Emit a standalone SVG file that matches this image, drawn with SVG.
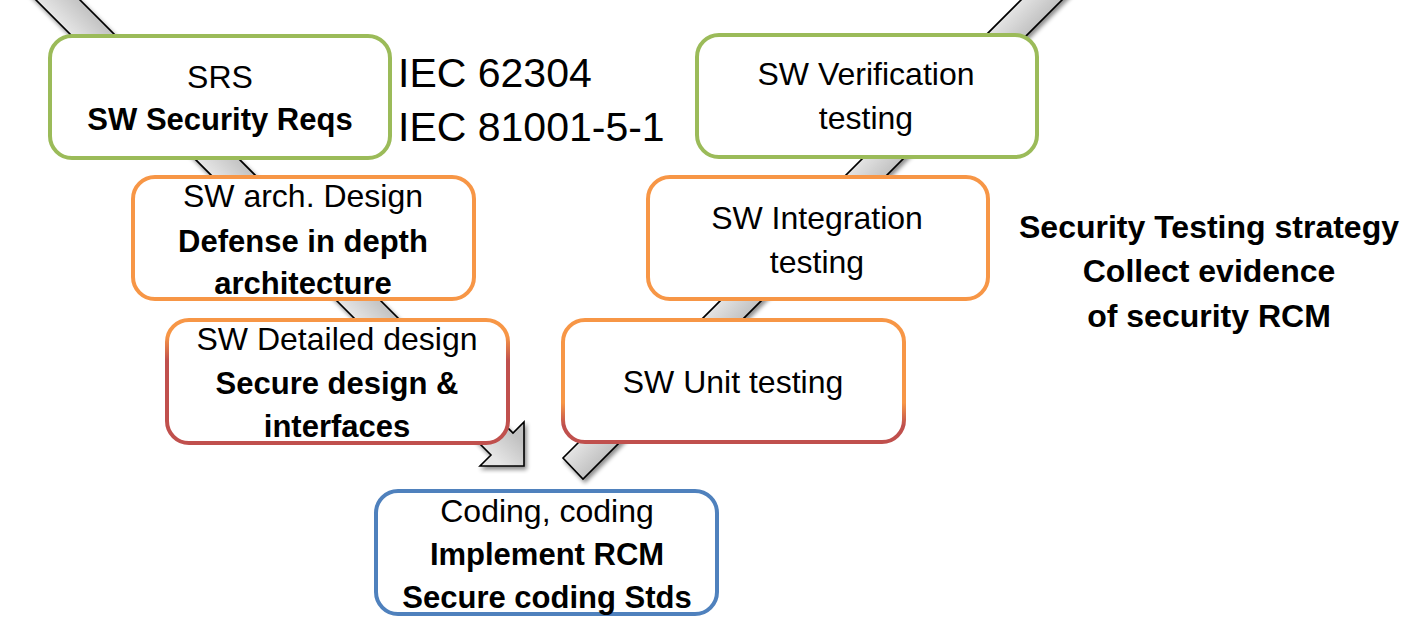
<svg xmlns="http://www.w3.org/2000/svg" width="1428" height="640" viewBox="0 0 1428 640">
<style>
.box{fill:#ffffff;stroke-width:4}
.t{font-family:"Liberation Sans",Arial,sans-serif;font-size:32px;fill:#000;text-anchor:middle}
.b{font-weight:bold;font-size:31px}
.s{font-size:32px}
.iec{font-family:"Liberation Sans",Arial,sans-serif;font-size:41px;fill:#000}
.band{stroke:#000;stroke-width:1.6;stroke-linejoin:miter}
</style>
<defs>
<linearGradient id="gL" gradientUnits="userSpaceOnUse" x1="36" y1="0" x2="58" y2="-22">
<stop offset="0" stop-color="#e6e6e6"/><stop offset="1" stop-color="#c2c2c2"/>
</linearGradient>
<linearGradient id="gR" gradientUnits="userSpaceOnUse" x1="1021" y1="0" x2="1041.5" y2="20.5">
<stop offset="0" stop-color="#e4e4e4"/><stop offset="1" stop-color="#c2c2c2"/>
</linearGradient>
<linearGradient id="gDet" x1="0" y1="0" x2="0" y2="1">
<stop offset="0.13" stop-color="#F79646"/><stop offset="0.33" stop-color="#C0504D"/>
</linearGradient>
<linearGradient id="gUnit" x1="0" y1="0" x2="0" y2="1">
<stop offset="0.68" stop-color="#F79646"/><stop offset="0.86" stop-color="#C0504D"/>
</linearGradient>
<filter id="sh" x="-20%" y="-20%" width="140%" height="140%">
<feGaussianBlur in="SourceAlpha" stdDeviation="2"/>
<feOffset dx="2" dy="3" result="o"/>
<feComponentTransfer><feFuncA type="linear" slope="0.45"/></feComponentTransfer>
<feMerge><feMergeNode/><feMergeNode in="SourceGraphic"/></feMerge>
</filter>
</defs>
<rect width="1428" height="640" fill="#ffffff"/>

<g id="connectors">
<polygon class="band" fill="url(#gL)" filter="url(#sh)" points="60,-20 513,433 524,422 524,466 480,466 491,455 16,-20"/>
<polygon class="band" fill="url(#gR)" filter="url(#sh)" points="1041,-20 1082,-20 583,479 563,458"/>
</g>

<g id="srs">
<rect class="box" x="50" y="36" width="340" height="122" rx="22" stroke="#9BBB59"/>
<text class="t" x="220" y="88">SRS</text>
<text class="t b" x="220" y="130">SW Security Reqs</text>
</g>

<g id="iec">
<text class="iec" x="398" y="87">IEC 62304</text>
<text class="iec" x="398" y="141">IEC 81001-5-1</text>
</g>

<g id="verification">
<rect class="box" x="697" y="35" width="340" height="122" rx="22" stroke="#9BBB59"/>
<text class="t" x="866" y="85">SW Verification</text>
<text class="t" x="866" y="129">testing</text>
</g>

<g id="arch">
<rect class="box" x="133" y="177" width="341" height="122" rx="22" stroke="#F79646"/>
<text class="t" x="303" y="207">SW arch. Design</text>
<text class="t b" x="303" y="252">Defense in depth</text>
<text class="t b" x="303" y="294">architecture</text>
</g>

<g id="integration">
<rect class="box" x="648" y="177" width="340" height="122" rx="22" stroke="#F79646"/>
<text class="t" x="817" y="229">SW Integration</text>
<text class="t" x="817" y="273">testing</text>
</g>

<g id="detailed">
<rect class="box" x="167" y="320" width="341" height="123" rx="22" stroke="url(#gDet)"/>
<text class="t" x="337" y="350">SW Detailed design</text>
<text class="t b" x="337" y="394">Secure design &amp;</text>
<text class="t b" x="337" y="437">interfaces</text>
</g>

<g id="unit">
<rect class="box" x="563" y="320" width="341" height="122" rx="22" stroke="url(#gUnit)"/>
<text class="t" x="733" y="393">SW Unit testing</text>
</g>

<g id="coding">
<rect class="box" x="376" y="491" width="341" height="123" rx="22" stroke="#4F81BD"/>
<text class="t" x="547" y="522">Coding, coding</text>
<text class="t b" x="547" y="565">Implement RCM</text>
<text class="t b" x="547" y="608">Secure coding Stds</text>
</g>

<g id="strategy">
<text class="t b s" x="1209" y="238">Security Testing strategy</text>
<text class="t b s" x="1209" y="282">Collect evidence</text>
<text class="t b s" x="1209" y="327">of security RCM</text>
</g>
</svg>
